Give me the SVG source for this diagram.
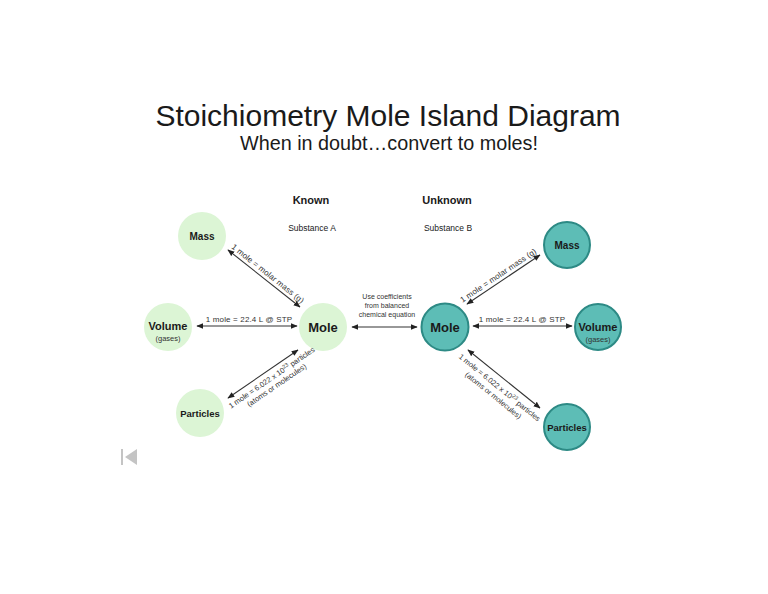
<svg xmlns="http://www.w3.org/2000/svg" width="768" height="594" viewBox="0 0 768 594">
<defs>
<marker id="ah" viewBox="0 0 10 10" refX="9" refY="5" markerWidth="7" markerHeight="7" markerUnits="userSpaceOnUse" orient="auto-start-reverse">
<path d="M0,1 L10,5 L0,9 Z" fill="#222"/>
</marker>
</defs>
<style>
text{font-family:"Liberation Sans",Arial,sans-serif;fill:#1a1a1a}
.known{fill:#dcf5d5}
.unk{fill:#5dbdb6;stroke:#2d8a85;stroke-width:2}
.lbl{font-weight:bold;text-anchor:middle}
.sm{font-size:7.5px;text-anchor:middle;fill:#333}
.conn line{stroke:#333;stroke-width:1.1;marker-start:url(#ah);marker-end:url(#ah)}
.cl{font-size:8px;fill:#333;text-anchor:middle;letter-spacing:0.15px}
.pl{font-size:7.5px;letter-spacing:0}
</style>
<rect width="768" height="594" fill="#fff"/>
<text x="388" y="126" font-size="30" text-anchor="middle">Stoichiometry Mole Island Diagram</text>
<text x="389" y="150" font-size="19.8" text-anchor="middle">When in doubt…convert to moles!</text>
<text x="311" y="204" font-size="11" class="lbl">Known</text>
<text x="447" y="204" font-size="11" class="lbl">Unknown</text>
<text x="312" y="231" font-size="8.5" text-anchor="middle" fill="#333">Substance A</text>
<text x="448" y="231" font-size="8.5" text-anchor="middle" fill="#333">Substance B</text>

<g id="mass-a"><circle class="known" cx="202" cy="236" r="24"/><text x="202" y="240" font-size="10" class="lbl">Mass</text></g>
<g id="volume-a"><circle class="known" cx="168" cy="327" r="24"/><text x="168" y="330" font-size="11" class="lbl">Volume</text><text x="168" y="341" class="sm">(gases)</text></g>
<g id="particles-a"><circle class="known" cx="200" cy="413" r="24"/><text x="200" y="417" font-size="9.5" class="lbl">Particles</text></g>
<g id="mole-a"><circle class="known" cx="323" cy="327" r="24"/><text x="323" y="332" font-size="13" class="lbl">Mole</text></g>

<g id="mole-b"><circle class="unk" cx="445" cy="327" r="23.5"/><text x="445" y="332" font-size="13" class="lbl">Mole</text></g>
<g id="mass-b"><circle class="unk" cx="567" cy="245" r="23"/><text x="567" y="249" font-size="10" class="lbl">Mass</text></g>
<g id="volume-b"><circle class="unk" cx="598" cy="327" r="23"/><text x="598" y="331" font-size="11" class="lbl">Volume</text><text x="598" y="342" class="sm">(gases)</text></g>
<g id="particles-b"><circle class="unk" cx="567" cy="427" r="23"/><text x="567" y="431" font-size="9.5" class="lbl">Particles</text></g>

<g class="conn">
<line x1="228" y1="250" x2="300" y2="307"/>
<line x1="197" y1="326" x2="297" y2="326"/>
<line x1="228" y1="398" x2="298" y2="350"/>
<line x1="352" y1="327" x2="417" y2="327"/>
<line x1="467" y1="304" x2="540" y2="255"/>
<line x1="473" y1="326" x2="572" y2="326"/>
<line x1="468" y1="350" x2="540" y2="408"/>
</g>

<g id="labels">
<text class="cl" transform="translate(264,278.5) rotate(38.4)" y="-3.5">1 mole  =  molar mass (g)</text>
<text class="cl" x="249" y="322">1 mole  =  22.4 L @ STP</text>
<g transform="translate(263,374) rotate(-34.4)">
<text class="cl pl" x="5" y="10.5">1 mole  =  6.022 x 10<tspan font-size="5.5" dy="-3">23</tspan><tspan dy="3"> particles</tspan></text>
<text class="cl pl" x="5" y="19.5">(atoms or molecules)</text>
</g>
<text class="cl" x="387" y="299" style="font-size:7px;letter-spacing:0">Use coefficients</text>
<text class="cl" x="387" y="308" style="font-size:7px;letter-spacing:0">from balanced</text>
<text class="cl" x="387" y="317" style="font-size:7px;letter-spacing:0">chemical equation</text>
<text class="cl" transform="translate(503.5,279.5) rotate(-33.9)" x="-2" y="-3.5">1 mole  =  molar mass (g)</text>
<text class="cl" x="522" y="322">1 mole  =  22.4 L @ STP</text>
<g transform="translate(504,379) rotate(38.9)">
<text class="cl pl" x="2" y="12">1 mole  =  6.022 x 10<tspan font-size="5.5" dy="-3">23</tspan><tspan dy="3"> particles</tspan></text>
<text class="cl pl" x="2" y="22">(atoms or molecules)</text>
</g>
</g>

<g id="nav-icon" fill="#c4c4c4">
<rect x="121" y="449" width="2" height="16"/>
<path d="M137,449 L137,465 L125,457 Z"/>
</g>
</svg>
